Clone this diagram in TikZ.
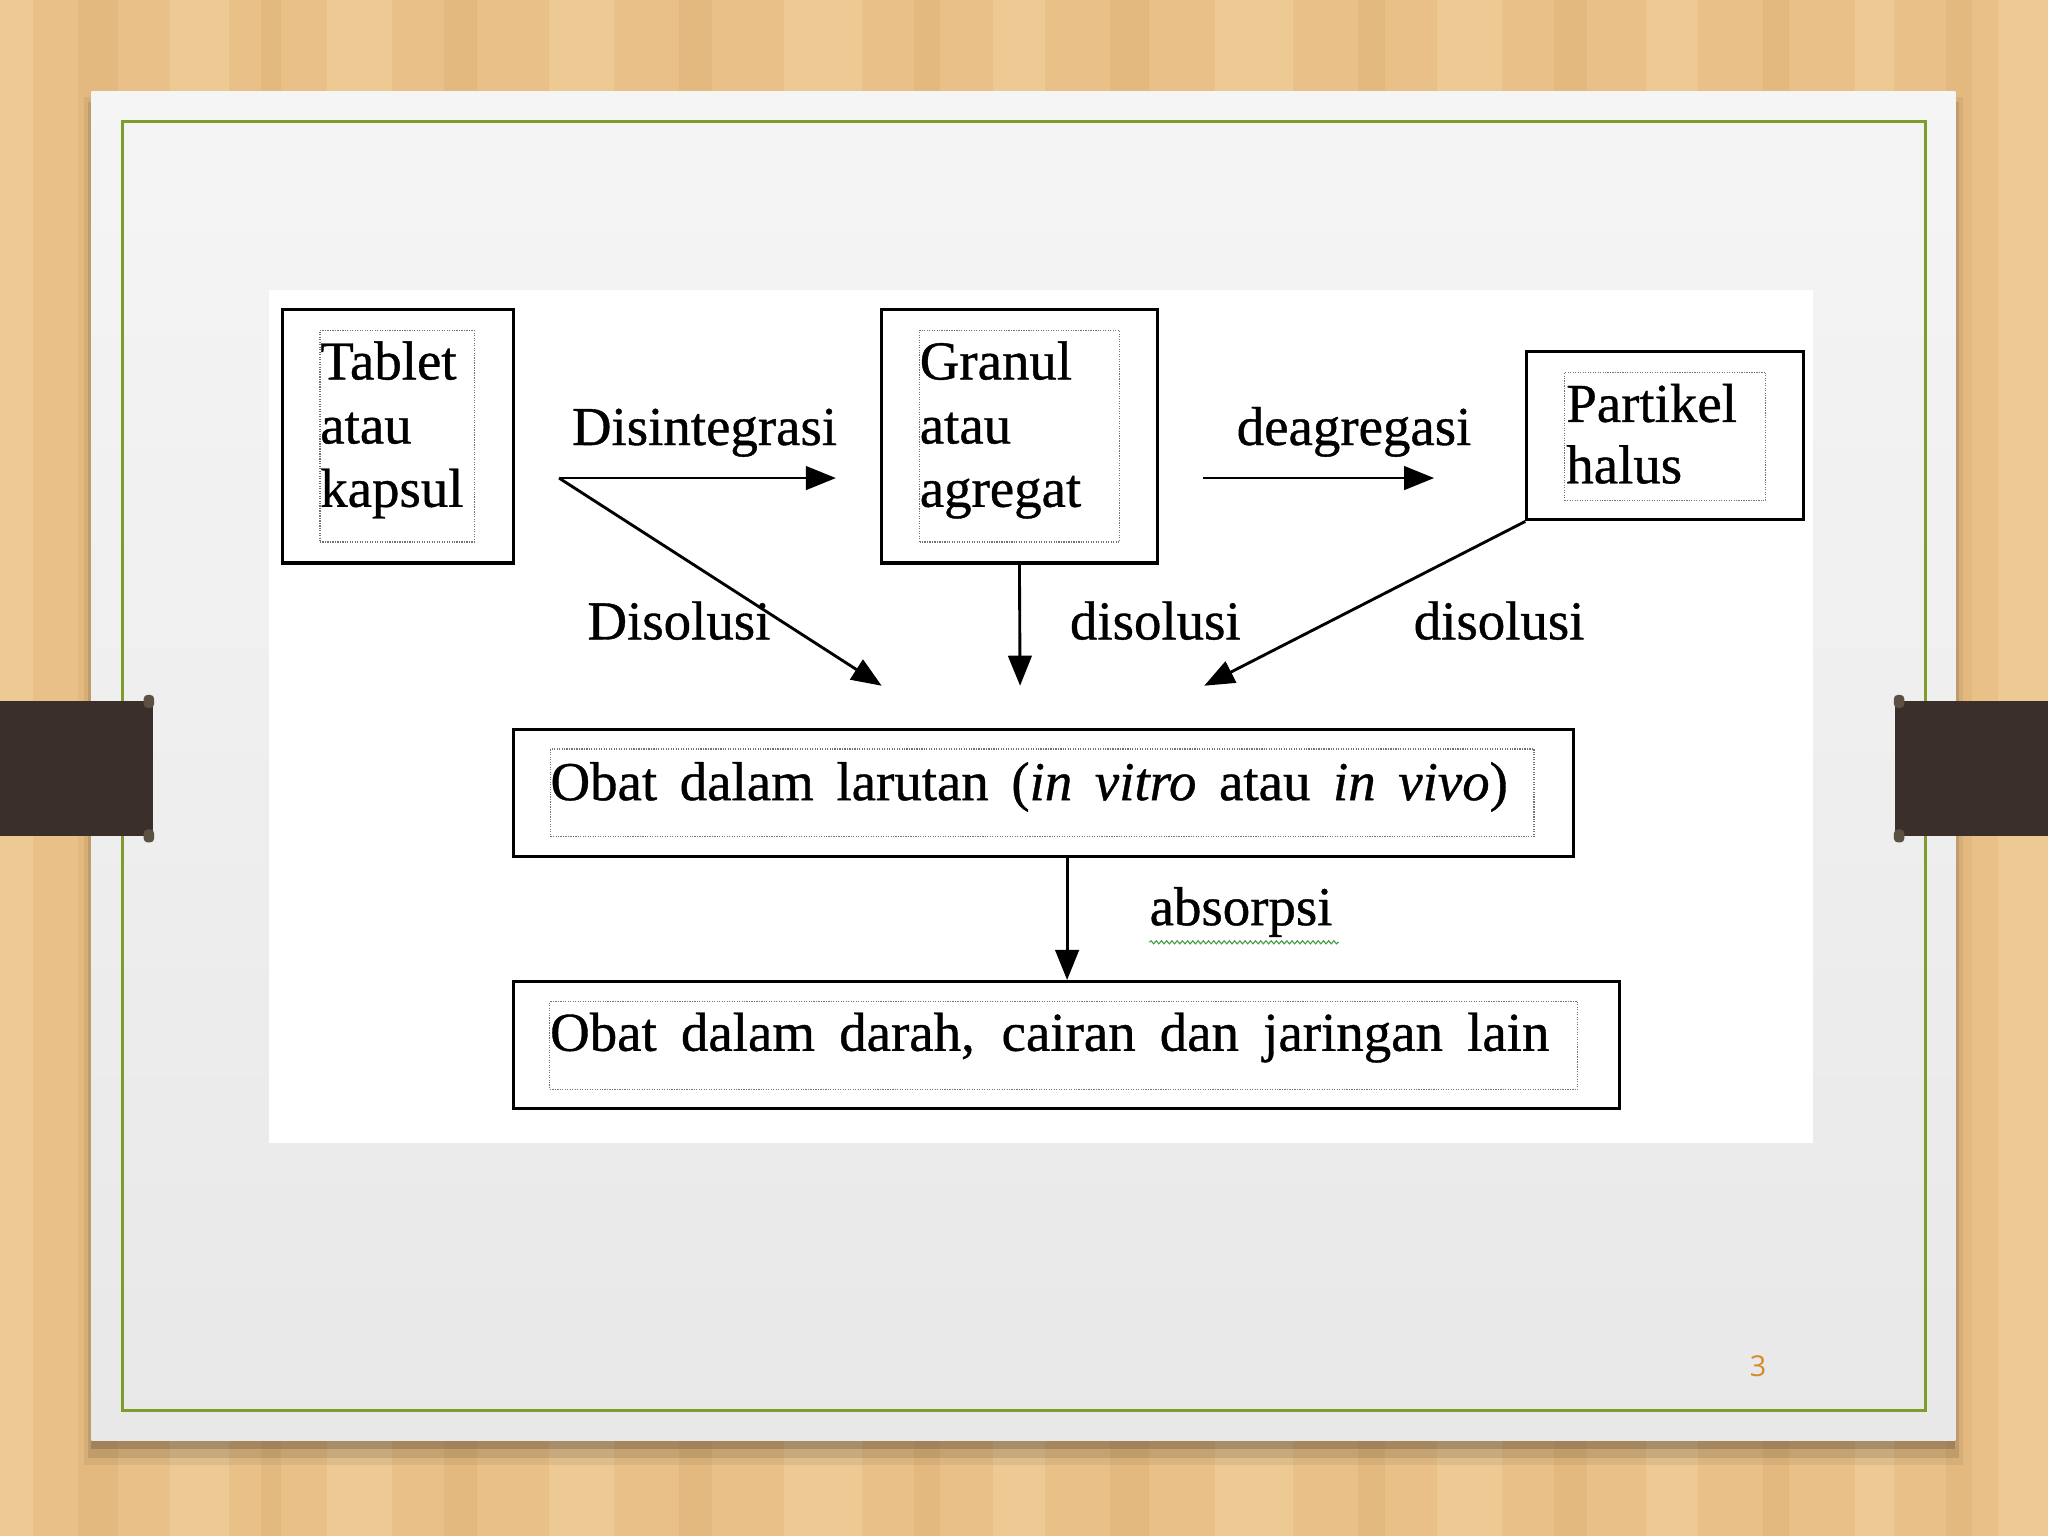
\documentclass[tikz,border=0pt]{standalone}
\usepackage{fontspec}
\setmainfont{Liberation Serif}[FakeBold=0.7, ItalicFeatures={FakeBold=0.7}]
\newfontfamily\numfont{Open Sans}
\usetikzlibrary{arrows.meta,decorations.pathmorphing}
\definecolor{woodbase}{HTML}{E9C188}
\definecolor{woodlight}{HTML}{F2D4A4}
\definecolor{wooddark}{HTML}{DEB178}
\definecolor{slidegreen}{HTML}{7E9B2E}
\definecolor{strap}{HTML}{3A2F2B}
\definecolor{knob}{HTML}{5C5042}
\definecolor{pagenum}{HTML}{D68A2C}
\definecolor{spellgreen}{HTML}{3E9A3E}
\tikzset{
  outerbox/.style={draw=black, line width=2.4pt, fill=white, inner sep=0, minimum width=#1},
  innerbox/.style={draw=black!55, densely dotted, line width=0.9pt, inner sep=0},
  txt/.style={font=\fontsize{42}{49}\selectfont, inner sep=0, anchor=base west},
  arr/.style={line width=2.2pt, -{Triangle[length=23pt,width=18pt]}},
}
\begin{document}
\begin{tikzpicture}[x=1pt,y=-1pt]
\useasboundingbox (0,0) rectangle (1568,1176);
% wood background
\fill[woodbase] (0,0) rectangle (1568,1176);
\foreach \a/\b/\c in {0/25/woodlight,60/90/wooddark,130/175/woodlight,200/215/wooddark,250/300/woodlight,340/365/wooddark,420/470/woodlight,520/545/wooddark,600/660/woodlight,700/720/wooddark,760/800/woodlight,850/880/wooddark,930/990/woodlight,1040/1060/wooddark,1100/1150/woodlight,1190/1215/wooddark,1260/1300/woodlight,1350/1370/wooddark,1420/1450/woodlight,1490/1510/wooddark,1530/1568/woodlight}
  \fill[\c, opacity=0.45] (\a,0) rectangle (\b,1176);
% slide shadow
\fill[black, opacity=0.06] (64,74) rectangle (1503,1122);
\fill[black, opacity=0.10] (67,78) rectangle (1500,1116);
\fill[black, opacity=0.16] (70,84) rectangle (1497,1109);
% slide
\shade[top color=white!96!black, bottom color=white!91!black] (70,70) rectangle (1497,1103);
\draw[slidegreen, line width=2.4pt] (94,93) rectangle (1474,1080);
% straps
\fill[strap] (0,537) rectangle (117,640);
\fill[knob, rounded corners=3pt] (110,532) rectangle (118,542);
\fill[knob, rounded corners=3pt] (110,635) rectangle (118,645);
\fill[strap] (1451,537) rectangle (1568,640);
\fill[knob, rounded corners=3pt] (1450,532) rectangle (1458,542);
\fill[knob, rounded corners=3pt] (1450,635) rectangle (1458,645);
% white picture area
\fill[white] (206,222) rectangle (1388,875);
% boxes
\node[outerbox=177pt, minimum height=194pt] (tab) at (304.5,334) {};
\node[innerbox, minimum width=118pt, minimum height=162pt] (tabi) at (304,334) {};
\node[outerbox=211pt, minimum height=194pt] (gra) at (780.5,334) {};
\node[innerbox, minimum width=153pt, minimum height=162pt] (grai) at (780.5,334) {};
\node[outerbox=212pt, minimum height=129pt] (par) at (1275,333.5) {};
\node[innerbox, minimum width=154pt, minimum height=98pt] (pari) at (1275,334) {};
\node[outerbox=812pt, minimum height=97pt] (lar) at (799,607) {};
\node[innerbox, minimum width=753pt, minimum height=67pt] (lari) at (798,607) {};
\node[outerbox=847pt, minimum height=97pt] (dar) at (816.5,800) {};
\node[innerbox, minimum width=787pt, minimum height=67pt] (dari) at (814.5,800.5) {};
% box texts
\node[txt] (t1) at (245,290.5) {Tablet};
\node[txt] (t2) at (245,339.5) {atau};
\node[txt] (t3) at (245,388) {kapsul};
\node[txt] (g1) at (704,290.5) {Granul};
\node[txt] (g2) at (704,339.5) {atau};
\node[txt] (g3) at (704,388) {agregat};
\node[txt] (p1) at (1199,323) {Partikel};
\node[txt] (p2) at (1199,370) {halus};
\node[txt] (lt) at (421.3,612.6) {\makebox[733pt][s]{Obat dalam larutan (\textit{in vitro} atau \textit{in vivo})}};
\node[txt] (dt) at (421,804.5) {\makebox[765pt][s]{Obat dalam darah, cairan dan jaringan lain}};
% labels
\node[txt] (lDis) at (437.7,340.7) {Disintegrasi};
\node[txt] (lDea) at (946.7,340.7) {deagregasi};
\node[txt] (lDs1) at (449.6,489.5) {Disolusi};
\node[txt] (lDs2) at (819,489.5) {disolusi};
\node[txt] (lDs3) at (1082.2,489.5) {disolusi};
\node[txt] (lAbs) at (880,708.3) {absorpsi};
\draw[spellgreen, line width=0.8pt, decorate, decoration={snake, amplitude=1.2pt, segment length=4pt}] (lAbs.south west) ++(0,4) -- ++(145,0);
% connectors
\coordinate (split) at (428,366);
\coordinate (gin) at (640,366);
\coordinate (tip1) at (675,525);
\coordinate (tip2) at (781,525);
\coordinate (tip3) at (922,525);
\coordinate (dstart) at (921,366);
\coordinate (dend) at (1098,366);
\coordinate (absx) at (817,700);
\draw[arr] (split) -- (gin);
\draw[arr] (split) -- (tip1);
\draw[arr] (gra.south) -- (tip2);
\draw[arr] (dstart) -- (dend);
\draw[arr] (par.south west) -- (tip3);
\draw[arr] (lar.south -| absx) -- (dar.north -| absx);
% page number
\node[font=\numfont\fontsize{22}{26}\selectfont, text=pagenum, inner sep=0] (pg) at (1346,1046) {3};
\end{tikzpicture}
\end{document}
